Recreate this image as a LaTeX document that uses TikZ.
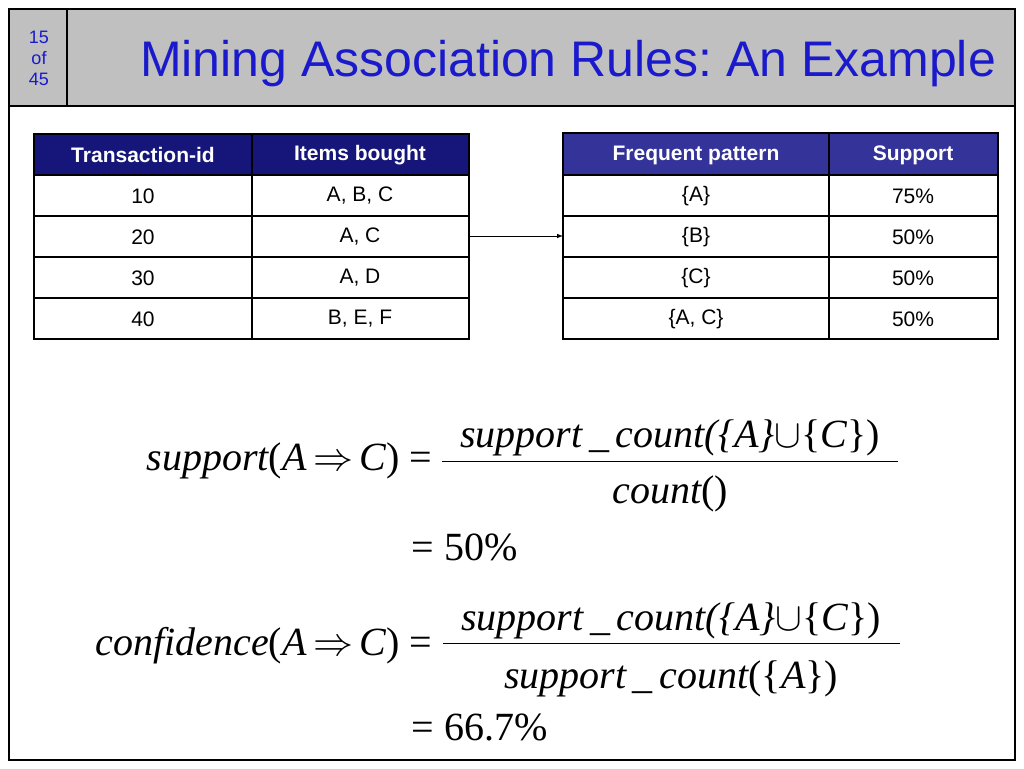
\RequirePackage{fix-cm}
\documentclass[tikz,border=0pt]{standalone}
\usepackage{fontspec}
\setmainfont{Liberation Serif}
\newfontfamily\arialf{Liberation Sans}
\frenchspacing
\definecolor{navy}{HTML}{16167A}
\definecolor{blueh}{HTML}{333399}
\definecolor{titleblue}{HTML}{1A1ACC}
\definecolor{hdrgray}{HTML}{C0C0C0}
\begin{document}
\begin{tikzpicture}[x=1pt,y=-1pt,
  cell/.style={font=\arialf\fontsize{21}{24}\selectfont},
  hcell/.style={font=\arialf\bfseries\fontsize{21}{24}\selectfont,text=white},
  frm/.style={font=\fontsize{40}{44}\selectfont\itshape,anchor=base},
  frmr/.style={font=\fontsize{40}{44}\selectfont,anchor=base}]
\useasboundingbox (0,0) rectangle (1024,768);
\fill[white] (0,0) rectangle (1024,768);
% header
\fill[hdrgray] (9,9) rectangle (1015,106);
\draw[line width=2pt] (9,9) rectangle (1015,760);
\draw[line width=2pt] (9,106) -- (1015,106);
\draw[line width=2pt] (67,9) -- (67,106);
\node[align=center,text=titleblue,font=\arialf\fontsize{18}{21}\selectfont] (pg) at (39,58) {15\\of\\45};
\node[text=titleblue,font=\arialf\fontsize{50}{55}\selectfont,anchor=base] (title) at (568,77) {Mining Association Rules: An Example};
% left table
\fill[navy] (34,134) rectangle (469,175);
\foreach \y in {175,216,257,298} \draw[line width=1.2pt] (34,\y) -- (469,\y);
\draw[line width=2pt] (34,134) rectangle (469,339);
\draw[line width=1.5pt] (252,134) -- (252,339);
\node[hcell] (lh1) at (143,155) {Transaction-id};
\node[hcell] (lh2) at (360,155) {Items bought};
\node[cell] (l11) at (143,196) {10}; \node[cell] (l12) at (360,196) {A, B, C};
\node[cell] (l21) at (143,237) {20}; \node[cell] (l22) at (360,237) {A, C};
\node[cell] (l31) at (143,278) {30}; \node[cell] (l32) at (360,278) {A, D};
\node[cell] (l41) at (143,319) {40}; \node[cell] (l42) at (360,319) {B, E, F};
% right table
\fill[blueh] (563,133) rectangle (998,175);
\foreach \y in {175,216,257,298} \draw[line width=1.2pt] (563,\y) -- (998,\y);
\draw[line width=2pt] (563,133) rectangle (998,339);
\draw[line width=1.5pt] (829,133) -- (829,339);
\node[hcell] (rh1) at (696,155) {Frequent pattern};
\node[hcell] (rh2) at (913,155) {Support};
\node[cell] (r11) at (696,196) {\{A\}}; \node[cell] (r12) at (913,196) {75\%};
\node[cell] (r21) at (696,237) {\{B\}}; \node[cell] (r22) at (913,237) {50\%};
\node[cell] (r31) at (696,278) {\{C\}}; \node[cell] (r32) at (913,278) {50\%};
\node[cell] (r41) at (696,319) {\{A, C\}}; \node[cell] (r42) at (913,319) {50\%};
\coordinate (a1) at (470,236); \coordinate (a2) at (563,236);
\draw[-latex,line width=1pt] (a1) -- (a2);
% formulas
\node[frm,anchor=base east] (s1) at (436,470) {support\upshape(\itshape A\,$\Rightarrow$\,C\upshape) =};
\node[frm] (s2) at (670,447) {support\,\_\,count(\{A\}$\cup$\upshape\{\itshape C\upshape\})};
\draw[line width=1pt] (442,461) -- (898,461);
\node[frm] (s3) at (670,503) {count\upshape()};
\node[frmr,anchor=base west] (s4) at (408,560) {= 50\%};
\node[frm,anchor=base east] (c1) at (436,655) {confidence\upshape(\itshape A\,$\Rightarrow$\,C\upshape) =};
\node[frm] (c2) at (671,630) {support\,\_\,count(\{A\}$\cup$\upshape\{\itshape C\upshape\})};
\draw[line width=1pt] (443,643) -- (900,643);
\node[frm] (c3) at (671,688) {support\,\_\,count\upshape(\{\itshape A\upshape\})};
\node[frmr,anchor=base west] (c4) at (408,740) {= 66.7\%};
\end{tikzpicture}
\end{document}
